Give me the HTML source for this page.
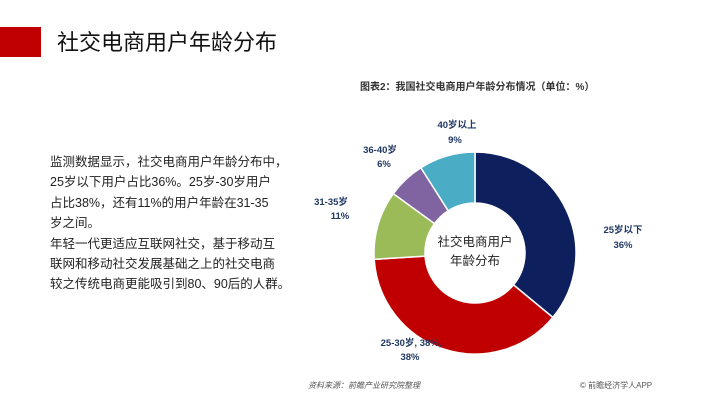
<!DOCTYPE html>
<html><head><meta charset="utf-8"><style>
body{margin:0;width:720px;height:405px;background:#fff;overflow:hidden;position:relative;font-family:"Liberation Sans","Noto Sans CJK SC",sans-serif}
.bar{position:absolute;left:0;top:27px;width:41px;height:30px;background:#c00000}
.title{position:absolute;left:57px;top:29px;font-size:22px;color:#111;line-height:28px}
.txt{position:absolute;left:50px;top:152px;width:245px;font-size:12.5px;line-height:20.4px;color:#222}
</style></head><body>
<div class="bar"></div>
<div class="title">社交电商用户年龄分布</div>
<div class="txt">监测数据显示，社交电商用户年龄分布中，<br>25岁以下用户占比36%。25岁-30岁用户<br>占比38%，还有11%的用户年龄在31-35<br>岁之间。<br>年轻一代更适应互联网社交，基于移动互<br>联网和移动社交发展基础之上的社交电商<br>较之传统电商更能吸引到80、90后的人群。</div>
<svg id="s" width="720" height="405" style="position:absolute;left:0;top:0" font-family="Liberation Sans,Noto Sans CJK SC,sans-serif">
<text x="360" y="90" font-size="10" font-weight="bold" fill="#333">图表2：我国社交电商用户年龄分布情况（单位：%）</text>
<g id="d"></g>
<g font-size="9.5" font-weight="bold" fill="#1f3864" text-anchor="middle">
<text x="457" y="128">40岁以上</text><text x="455" y="143">9%</text>
<text x="380" y="153">36-40岁</text><text x="384" y="167">6%</text>
<text x="331" y="205">31-35岁</text><text x="340" y="219">11%</text>
<text x="623" y="233">25岁以下</text><text x="623" y="248">36%</text>
<text x="411" y="346">25-30岁, 38%,</text><text x="410" y="360">38%</text>
</g>
<g font-size="12.5" fill="#222" text-anchor="middle"><text x="475" y="246">社交电商用户</text><text x="475" y="265">年龄分布</text></g>
<text x="308" y="388" font-size="8" fill="#555" font-style="italic">资料来源：前瞻产业研究院整理</text>
<text x="580" y="388" font-size="8" fill="#555">© 前瞻经济学人APP</text>
</svg>
<script>
var cx=475,cy=253,R=101,r=50,v=[.36,.38,.11,.06,.09],c=["#0d1f5c","#c00000","#9bbb59","#8064a2","#4bacc6"],a=0,h="";
function p(rad,t){var an=2*Math.PI*t-Math.PI/2;return [cx+rad*Math.cos(an),cy+rad*Math.sin(an)];}
for(var i=0;i<5;i++){var b=a+v[i],L=v[i]>.5?1:0,p1=p(R,a),p2=p(R,b),p3=p(r,b),p4=p(r,a);
h+='<path d="M'+p1+'A'+R+','+R+' 0 '+L+' 1 '+p2+'L'+p3+'A'+r+','+r+' 0 '+L+' 0 '+p4+'Z" fill="'+c[i]+'" stroke="#fff" stroke-width="1.5"/>';a=b;}
document.getElementById("d").innerHTML=h;
</script>
</body></html>
